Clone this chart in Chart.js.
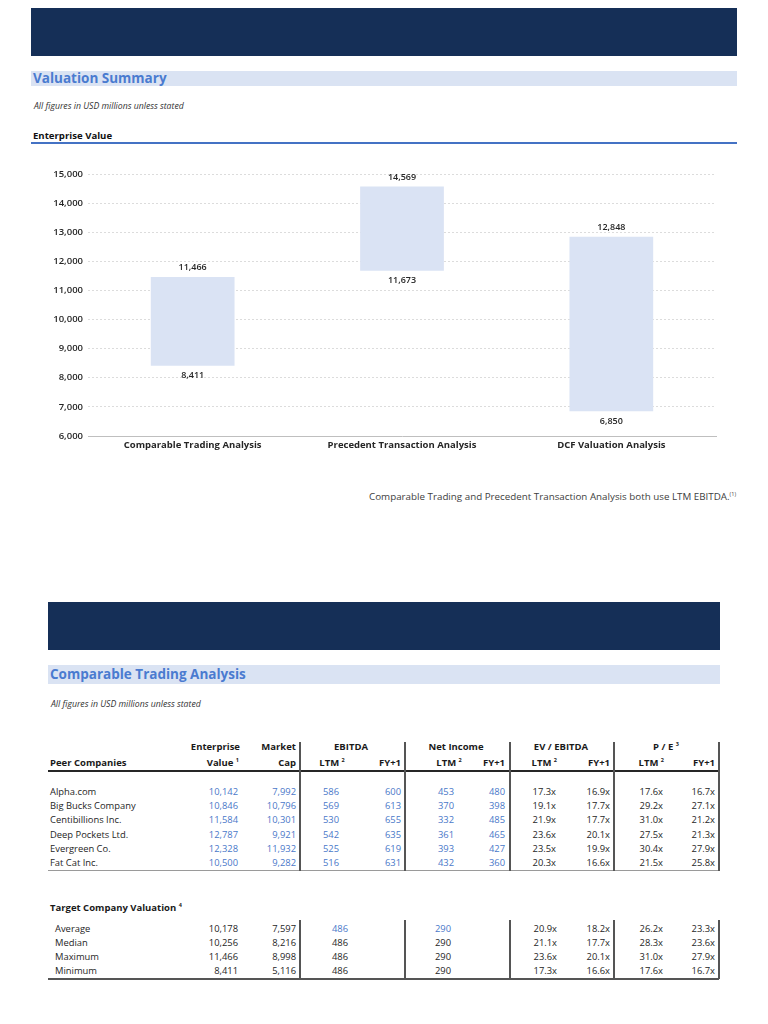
<!DOCTYPE html>
<html>
<head>
<meta charset="utf-8">
<script src="https://cdn.jsdelivr.net/npm/chart.js@4.4.1/dist/chart.umd.min.js"></script>
<style>
  body { margin: 0; background: #fff; font-family: "Open Sans", sans-serif; color: #262626; }
  .abs { position: absolute; white-space: nowrap; }
  .banner { position: absolute; background: #152f57; }
  .band { position: absolute; background: #dae3f3; }
  .band span { position: absolute; left: 2px; font-weight: 700; color: #4a7bd0; }
  .note { position: absolute; font-style: italic; font-size: 8.7px; color: #333; }
  .cell { position: absolute; white-space: nowrap; font-size: 9.4px; line-height: 12px; height: 12px; }
  .hd { font-weight: 700; color: #1a1a1a; font-size: 9.5px; }
  .blue { color: #4a78c9; }
  sup { font-size: 5.5px; vertical-align: 4px; line-height: 0; }
  .vline { position: absolute; width: 1.5px; background: #555; }
  .hline { position: absolute; }
</style>
</head>
<body>
<div class="banner" style="left:31px;top:8px;width:706px;height:48px"></div>
<div class="band" style="left:31px;top:71px;width:706px;height:15px"><span style="font-size:13.5px;line-height:15px;top:0">Valuation Summary</span></div>
<div class="note" style="left:34px;top:100px">All figures in USD millions unless stated</div>
<div class="abs" style="left:33px;top:129px;font-size:9.6px;font-weight:700;color:#111">Enterprise Value</div>
<div class="hline" style="left:31px;top:142px;width:706px;height:2px;background:#4472c4"></div>

<div style="position:absolute;left:31px;top:160px;width:706px;height:300px">
  <canvas id="evChart"></canvas>
</div>

<div class="abs" style="right:32px;top:490px;font-size:9.8px;color:#404040">Comparable Trading and Precedent Transaction Analysis both use LTM EBITDA.<sup>(1)</sup></div>

<div class="banner" style="left:48px;top:602px;width:672px;height:48px"></div>
<div class="band" style="left:48px;top:665px;width:672px;height:19px"><span style="font-size:13.5px;line-height:19px;top:0">Comparable Trading Analysis</span></div>
<div class="note" style="left:51px;top:698px">All figures in USD millions unless stated</div>

<div id="table"></div>

<script>
// chart data
const categories = ['Comparable Trading Analysis', 'Precedent Transaction Analysis', 'DCF Valuation Analysis'];
const lowValues = [8411, 11673, 6850];
const highValues = [11466, 14569, 12848];
const yMin = 6000;
const yMax = 15000;
const yStep = 1000;

// table data
const peerCompanies = ['Alpha.com', 'Big Bucks Company', 'Centibillions Inc.', 'Deep Pockets Ltd.', 'Evergreen Co.', 'Fat Cat Inc.'];
const peerEV = [10142, 10846, 11584, 12787, 12328, 10500];
const peerMarketCap = [7992, 10796, 10301, 9921, 11932, 9282];
const peerEbitdaLtm = [586, 569, 530, 542, 525, 516];
const peerEbitdaFy1 = [600, 613, 655, 635, 619, 631];
const peerNetIncomeLtm = [453, 370, 332, 361, 393, 432];
const peerNetIncomeFy1 = [480, 398, 485, 465, 427, 360];
const peerEvEbitdaLtm = [17.3, 19.1, 21.9, 23.6, 23.5, 20.3];
const peerEvEbitdaFy1 = [16.9, 17.7, 17.7, 20.1, 19.9, 16.6];
const peerPeLtm = [17.6, 29.2, 31.0, 27.5, 30.4, 21.5];
const peerPeFy1 = [16.7, 27.1, 21.2, 21.3, 27.9, 25.8];

const targetStats = ['Average', 'Median', 'Maximum', 'Minimum'];
const targetEV = [10178, 10256, 11466, 8411];
const targetMarketCap = [7597, 8216, 8998, 5116];
const targetEbitdaLtm = [486, 486, 486, 486];
const targetNetIncomeLtm = [290, 290, 290, 290];
const targetEvEbitdaLtm = [20.9, 21.1, 23.6, 17.3];
const targetEvEbitdaFy1 = [18.2, 17.7, 20.1, 16.6];
const targetPeLtm = [26.2, 28.3, 31.0, 17.6];
const targetPeFy1 = [23.3, 23.6, 27.9, 16.7];

const fmt = v => v.toLocaleString('en-US');
const fmtX = v => v.toFixed(1) + 'x';

// labels at bar ends
const endLabels = {
    id: 'endLabels',
    afterDatasetsDraw(chart) {
        const ctx = chart.ctx;
        const meta = chart.getDatasetMeta(0);
        ctx.save();
        ctx.font = '600 9px "Open Sans"';
        ctx.fillStyle = '#262626';
        ctx.textAlign = 'center';
        ctx.textBaseline = 'middle';
        meta.data.forEach((bar, i) => {
            ctx.fillText(fmt(highValues[i]), bar.x, bar.y - 9);
            ctx.fillText(fmt(lowValues[i]), bar.x, bar.base + 10);
        });
        ctx.restore();
    }
};

const ctx = document.getElementById('evChart').getContext('2d');
new Chart(ctx, {
    type: 'bar',
    data: {
        labels: categories,
        datasets: [{
            data: lowValues.map((v, i) => [v, highValues[i]]),
            backgroundColor: '#dae3f4',
            borderWidth: 0,
            categoryPercentage: 1,
            barPercentage: 0.4
        }]
    },
    options: {
        responsive: true,
        maintainAspectRatio: false,
        animation: false,
        layout: { padding: { top: 14, right: 21, left: 0, bottom: 0 } },
        plugins: { legend: { display: false }, tooltip: { enabled: false } },
        scales: {
            x: {
                grid: { display: false, drawTicks: false },
                border: { display: true, color: '#bfbfbf', width: 1 },
                ticks: { font: { family: 'Open Sans', size: 9.5, weight: '700' }, color: '#262626', padding: 4 },
                afterFit(scale) { scale.height = 24; }
            },
            y: {
                min: yMin,
                max: yMax,
                grid: { color: '#d4d4d4', drawTicks: false, lineWidth: 0.8 },
                border: { display: false, dash: [2, 2] },
                ticks: {
                    stepSize: yStep,
                    padding: 5,
                    font: { family: 'Open Sans', size: 9.5, weight: '600' },
                    color: '#262626',
                    callback: v => fmt(v)
                },
                afterFit(scale) { scale.width = 57; }
            }
        }
    },
    plugins: [endLabels]
});

// table layout
const table = document.getElementById('table');
function put(text, x, y, align, cls) {
    const d = document.createElement('div');
    d.className = 'cell' + (cls ? ' ' + cls : '');
    d.innerHTML = text;
    d.style.top = (y - 6) + 'px';
    if (align === 'right') {
        d.style.right = (768 - x) + 'px';
    } else if (align === 'center') {
        d.style.left = (x - 50) + 'px';
        d.style.width = '100px';
        d.style.textAlign = 'center';
    } else {
        d.style.left = x + 'px';
    }
    table.appendChild(d);
}
function line(cls, l, t, w, h, bg) {
    const d = document.createElement('div');
    d.className = cls;
    d.style.left = l + 'px'; d.style.top = t + 'px';
    d.style.width = w + 'px'; d.style.height = h + 'px';
    if (bg) d.style.background = bg;
    table.appendChild(d);
}

// headers
put('Enterprise', 240, 747, 'right', 'hd');
put('Value <sup>1</sup>', 239, 763, 'right', 'hd');
put('Market', 296, 747, 'right', 'hd');
put('Cap', 296, 763, 'right', 'hd');
put('Peer Companies', 50, 763, 'left', 'hd');
put('EBITDA', 351, 747, 'center', 'hd');
put('LTM <sup>2</sup>', 332, 763, 'center', 'hd');
put('FY+1', 401, 763, 'right', 'hd');
put('Net Income', 456, 747, 'center', 'hd');
put('LTM <sup>2</sup>', 449, 763, 'center', 'hd');
put('FY+1', 505, 763, 'right', 'hd');
put('EV / EBITDA', 561, 747, 'center', 'hd');
put('LTM <sup>2</sup>', 557, 763, 'right', 'hd');
put('FY+1', 610, 763, 'right', 'hd');
put('P / E <sup>3</sup>', 666, 747, 'center', 'hd');
put('LTM <sup>2</sup>', 664, 763, 'right', 'hd');
put('FY+1', 715, 763, 'right', 'hd');

line('hline', 48, 770, 671, 2, '#262626');

const peerRowY = [792, 806, 820, 835, 849, 863];
peerCompanies.forEach((name, i) => {
    const y = peerRowY[i];
    put(name, 50, y, 'left');
    put(fmt(peerEV[i]), 238, y, 'right', 'blue');
    put(fmt(peerMarketCap[i]), 296, y, 'right', 'blue');
    put(fmt(peerEbitdaLtm[i]), 331, y, 'center', 'blue');
    put(fmt(peerEbitdaFy1[i]), 401, y, 'right', 'blue');
    put(fmt(peerNetIncomeLtm[i]), 446, y, 'center', 'blue');
    put(fmt(peerNetIncomeFy1[i]), 505, y, 'right', 'blue');
    put(fmtX(peerEvEbitdaLtm[i]), 556, y, 'right');
    put(fmtX(peerEvEbitdaFy1[i]), 610, y, 'right');
    put(fmtX(peerPeLtm[i]), 663, y, 'right');
    put(fmtX(peerPeFy1[i]), 715, y, 'right');
});
line('hline', 48, 870, 671, 1, '#9a9a9a');

put('Target Company Valuation <sup>4</sup>', 50, 908, 'left', 'hd');
const targetRowY = [929, 943, 957, 971];
targetStats.forEach((name, i) => {
    const y = targetRowY[i];
    const b = i === 0 ? 'blue' : '';
    put(name, 55, y, 'left');
    put(fmt(targetEV[i]), 238, y, 'right');
    put(fmt(targetMarketCap[i]), 296, y, 'right');
    put(fmt(targetEbitdaLtm[i]), 340, y, 'center', b);
    put(fmt(targetNetIncomeLtm[i]), 443, y, 'center', b);
    put(fmtX(targetEvEbitdaLtm[i]), 557, y, 'right');
    put(fmtX(targetEvEbitdaFy1[i]), 610, y, 'right');
    put(fmtX(targetPeLtm[i]), 663, y, 'right');
    put(fmtX(targetPeFy1[i]), 715, y, 'right');
});
line('hline', 48, 978, 671, 2, '#555');

[299, 404, 509, 613, 718].forEach(x => {
    line('vline', x, 742, 1.5, 129);
    line('vline', x, 920, 1.5, 59);
});
</script>
</body>
</html>
